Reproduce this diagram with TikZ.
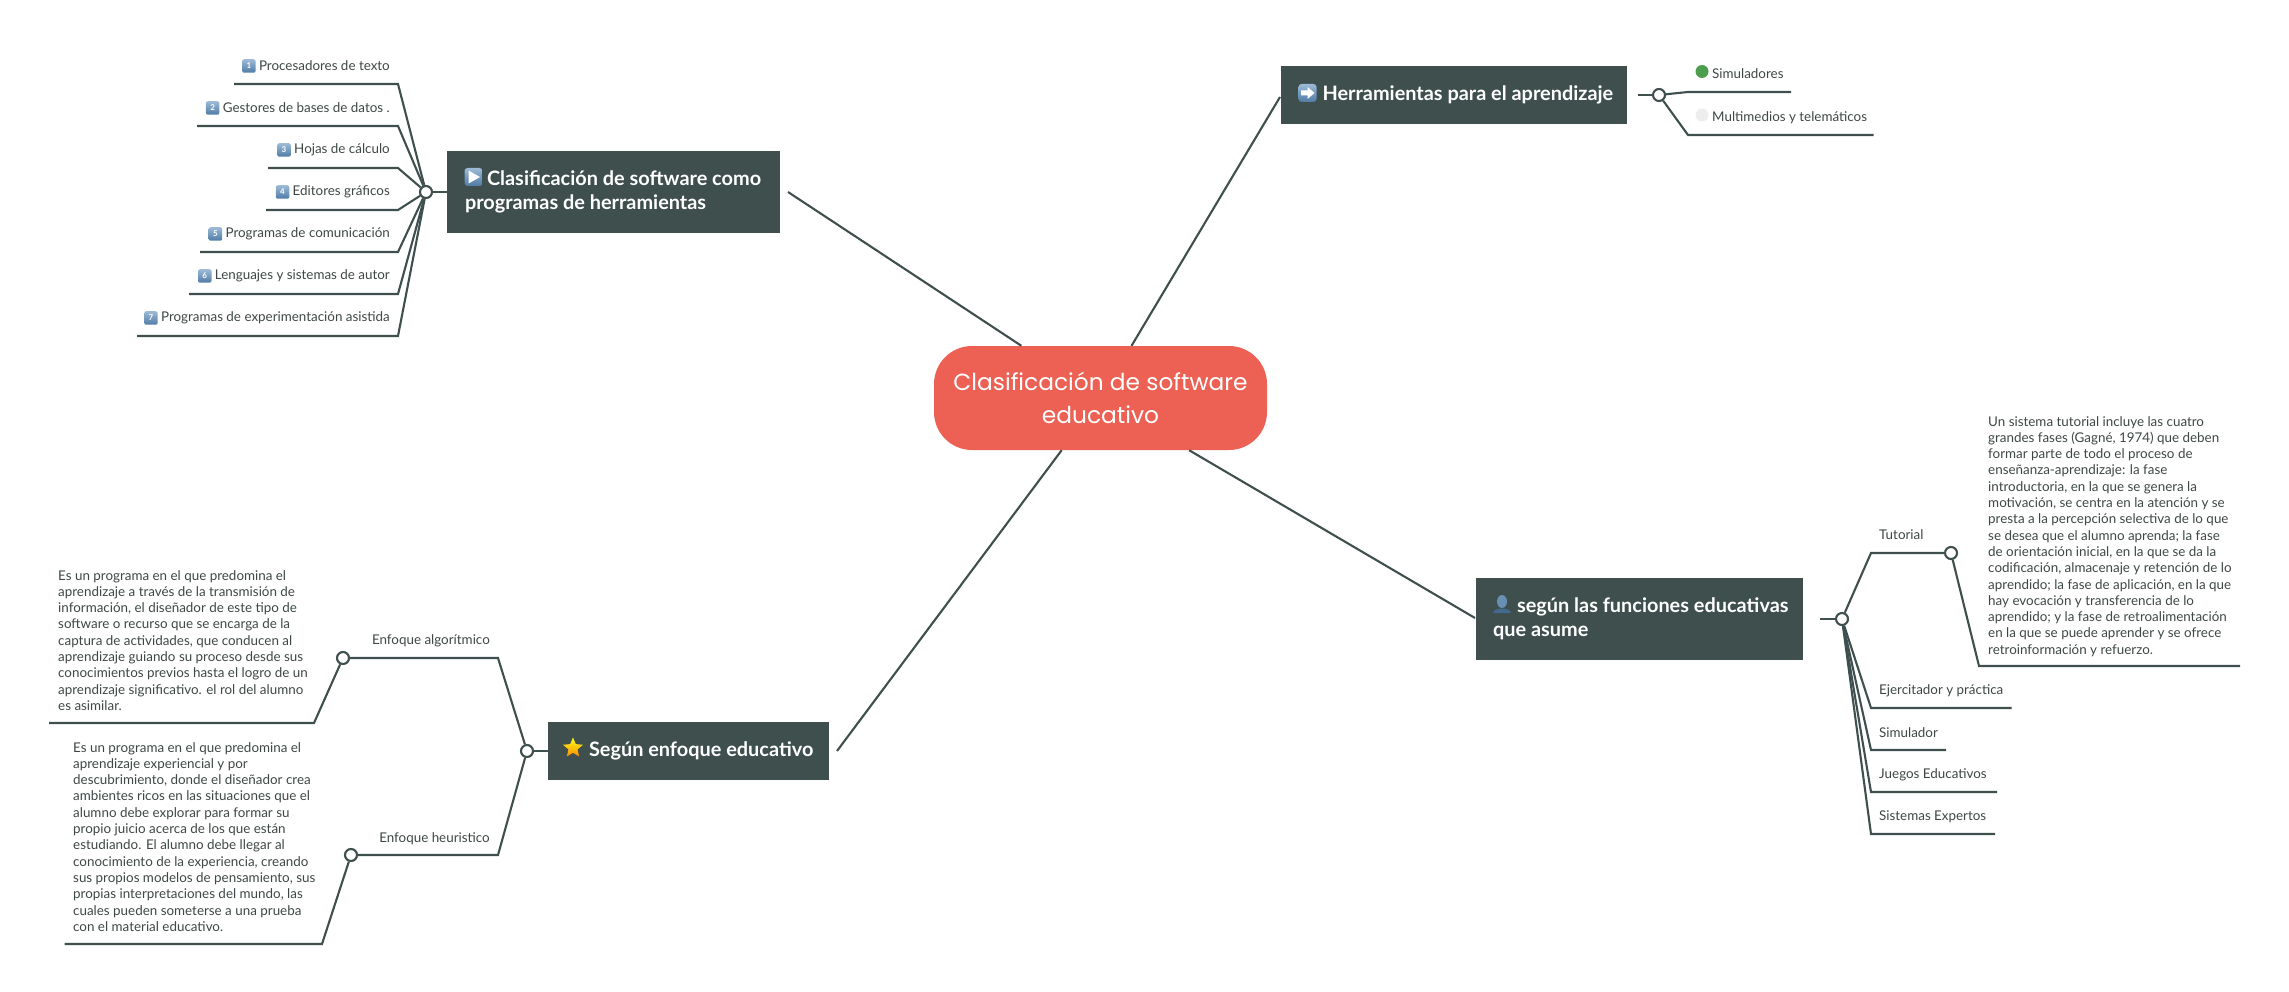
\documentclass[tikz,border=0pt]{standalone}
\usepackage{fontspec}
\setmainfont{Lato}
\newfontfamily\rootfont{Poppins}
\usetikzlibrary{positioning,shapes.geometric}
\definecolor{slate}{HTML}{3E4F4D}
\definecolor{coral}{HTML}{EC6153}
\definecolor{inktext}{HTML}{3D4745}
\definecolor{keytop}{HTML}{9DBBD6}
\definecolor{keybot}{HTML}{4F7BA6}
\tikzset{
  conn/.style={draw=slate, line width=2.1pt, line join=miter},
  root/.style={fill=coral, text=white, rounded corners=38pt, minimum width=333pt, minimum height=104pt, align=center, inner sep=0pt, font=\rootfont\fontsize{23.3}{32.5}\selectfont},
  topic/.style={fill=slate, text=white, anchor=center, align=flush left, inner sep=0pt, font=\bfseries\fontsize{19.9}{24}\selectfont},
  hub/.style={circle, draw=slate, fill=white, line width=2.1pt, minimum size=12pt, inner sep=0pt},
  leaf/.style={text=inktext, inner sep=0pt, font=\fontsize{13.4}{16.3}\selectfont},
  note/.style={leaf, align=left, anchor=north west},
  keycap/.style={rounded corners=2pt, top color=keytop, bottom color=keybot, text=white, minimum size=13.5pt, inner sep=0pt, font=\bfseries\fontsize{8}{8}\selectfont},
  bigcap/.style={rounded corners=3pt, top color=keytop, bottom color=keybot, minimum size=18pt, inner sep=0pt}
}
\begin{document}
\begin{tikzpicture}[x=1pt, y=-1pt]
\useasboundingbox (0,0) rectangle (2289,992);

% Draw the centre and the four topics
\node[root] (center) at (1100.5,398) {Clasificación de software\\educativo};
\node[topic, minimum width=333pt, minimum height=82pt, text width=297pt] (tools) at (613.5,192) {\mbox{\hspace*{22pt}Clasificación de software como}\\programas de herramientas};
\node[topic, minimum width=346pt, minimum height=58pt, text width=308pt] (learn) at (1453.5,95) {\mbox{\hspace*{23pt}Herramientas para el aprendizaje}};
\node[topic, minimum width=327pt, minimum height=82pt, text width=293pt] (roles) at (1639.5,619) {\mbox{\hspace*{24pt}según las funciones educativas}\\que asume};
\node[topic, minimum width=281pt, minimum height=58pt, text width=249pt] (focus) at (688.5,751) {\mbox{\hspace*{25pt}Según enfoque educativo}};

% Free ends of the main links
\coordinate (toolsend) at (788,192);
\coordinate (learnend) at (1280,97);
\coordinate (rolesend) at (1475,618);
\coordinate (focusend) at (837,751);
\draw[conn] (center) -- (toolsend);
\draw[conn] (center) -- (learnend);
\draw[conn] (center) -- (rolesend);
\draw[conn] (center) -- (focusend);

% Icons in the topics
\node[bigcap] (playicon) at (473.5,177) {};
\fill[white] (468.5,170.5) -- (480,177) -- (468.5,183.5) -- cycle;
\node[bigcap] (arrowicon) at (1307.5,93) {};
\fill[white] (1301,90.5) -- (1307.5,90.5) -- (1307.5,87) -- (1314.5,93) -- (1307.5,99) -- (1307.5,95.5) -- (1301,95.5) -- cycle;
\fill[keybot!85!white] (1502,601.5) ellipse (5pt and 6.5pt);
\fill[keybot!85!black] (1493,613) .. controls (1494,607) and (1510,607) .. (1511,613) -- cycle;
\node[star, star points=5, star point ratio=2.2, minimum size=21pt, inner sep=0pt, top color=yellow!90!white, bottom color=orange!90!yellow] (staricon) at (573,748) {};

% Left upper branch
\node[hub] (toolshub) at (426,192) {};
\draw[conn] (toolshub) -- (tools);
\coordinate (a1) at (398,84); \coordinate (a1end) at (234,84);
\coordinate (a2) at (398,126); \coordinate (a2end) at (197,126);
\coordinate (a3) at (398,168); \coordinate (a3end) at (268,168);
\coordinate (a4) at (398,210); \coordinate (a4end) at (266,210);
\coordinate (a5) at (398,252); \coordinate (a5end) at (200,252);
\coordinate (a6) at (398,294); \coordinate (a6end) at (189,294);
\coordinate (a7) at (398,336); \coordinate (a7end) at (137,336);
\draw[conn] (toolshub) -- (a1) -- (a1end);
\draw[conn] (toolshub) -- (a2) -- (a2end);
\draw[conn] (toolshub) -- (a3) -- (a3end);
\draw[conn] (toolshub) -- (a4) -- (a4end);
\draw[conn] (toolshub) -- (a5) -- (a5end);
\draw[conn] (toolshub) -- (a6) -- (a6end);
\draw[conn] (toolshub) -- (a7) -- (a7end);
\node[leaf, anchor=east] (proc) at (390,66) {Procesadores de texto};
\node[keycap, left=3pt of proc] (key1) {1};
\node[leaf, anchor=east] (gest) at (390,108) {Gestores de bases de datos .};
\node[keycap, left=3pt of gest] (key2) {2};
\node[leaf, anchor=east] (hoja) at (390,150) {Hojas de cálculo};
\node[keycap, left=3pt of hoja] (key3) {3};
\node[leaf, anchor=east] (edit) at (390,192) {Editores gráficos};
\node[keycap, left=3pt of edit] (key4) {4};
\node[leaf, anchor=east] (comu) at (390,234) {Programas de comunicación};
\node[keycap, left=3pt of comu] (key5) {5};
\node[leaf, anchor=east] (leng) at (390,276) {Lenguajes y sistemas de autor};
\node[keycap, left=3pt of leng] (key6) {6};
\node[leaf, anchor=east] (expe) at (390,318) {Programas de experimentación asistida};
\node[keycap, left=3pt of expe] (key7) {7};

% Right upper branch
\coordinate (learnstem) at (1637.5,95);
\node[hub] (learnhub) at (1659,95) {};
\draw[conn] (learnstem) -- (learnhub);
\coordinate (b1) at (1688,92); \coordinate (b1end) at (1791,92);
\coordinate (b2) at (1688,135); \coordinate (b2end) at (1873.5,135);
\draw[conn] (learnhub) -- (b1) -- (b1end);
\draw[conn] (learnhub) -- (b2) -- (b2end);
\node[circle, fill=green!45!black!70!white, minimum size=13pt, inner sep=0pt] (dot1) at (1702,71.5) {};
\node[leaf, anchor=west] (simu) at (1712,74) {Simuladores};
\node[circle, fill=black!7, minimum size=13pt, inner sep=0pt] (dot2) at (1702,115) {};
\node[leaf, anchor=west] (mult) at (1712,118) {Multimedios y telemáticos};

% Right lower branch
\coordinate (rolesstem) at (1820,619);
\node[hub] (roleshub) at (1842,619) {};
\draw[conn] (rolesstem) -- (roleshub);
\node[hub] (tutohub) at (1951,553) {};
\coordinate (c1) at (1871,553);
\coordinate (c2) at (1871,708); \coordinate (c2end) at (2011.5,708);
\coordinate (c3) at (1871,750); \coordinate (c3end) at (1946,750);
\coordinate (c4) at (1871,792); \coordinate (c4end) at (1997,792);
\coordinate (c5) at (1871,834); \coordinate (c5end) at (1995,834);
\coordinate (c6) at (1979,666); \coordinate (c6end) at (2240,666);
\draw[conn] (roleshub) -- (c1) -- (tutohub);
\draw[conn] (roleshub) -- (c2) -- (c2end);
\draw[conn] (roleshub) -- (c3) -- (c3end);
\draw[conn] (roleshub) -- (c4) -- (c4end);
\draw[conn] (roleshub) -- (c5) -- (c5end);
\draw[conn] (tutohub) -- (c6) -- (c6end);
\node[leaf, anchor=west] (tuto) at (1879,535) {Tutorial};
\node[leaf, anchor=west] (ejer) at (1879,691) {Ejercitador y práctica};
\node[leaf, anchor=west] (simd) at (1879,733) {Simulador};
\node[leaf, anchor=west] (jueg) at (1879,775) {Juegos Educativos};
\node[leaf, anchor=west] (sist) at (1879,817) {Sistemas Expertos};
\node[note] (tutonote) at (1988,416) {Un sistema tutorial incluye las cuatro\\grandes fases (Gagné, 1974) que deben\\formar parte de todo el proceso de\\enseñanza-aprendizaje: la fase\\introductoria, en la que se genera la\\motivación, se centra en la atención y se\\presta a la percepción selectiva de lo que\\se desea que el alumno aprenda; la fase\\de orientación inicial, en la que se da la\\codificación, almacenaje y retención de lo\\aprendido; la fase de aplicación, en la que\\hay evocación y transferencia de lo\\aprendido; y la fase de retroalimentación\\en la que se puede aprender y se ofrece\\retroinformación y refuerzo.};

% Left lower branch
\node[hub] (focushub) at (527,751) {};
\draw[conn] (focushub) -- (focus);
\node[hub] (algohub) at (343,658) {};
\node[hub] (heurhub) at (351,855) {};
\coordinate (d1) at (498,658);
\coordinate (d2) at (498,855);
\coordinate (d3) at (314,723); \coordinate (d3end) at (49,723);
\coordinate (d4) at (322,944); \coordinate (d4end) at (64.5,944);
\draw[conn] (focushub) -- (d1) -- (algohub);
\draw[conn] (focushub) -- (d2) -- (heurhub);
\draw[conn] (algohub) -- (d3) -- (d3end);
\draw[conn] (heurhub) -- (d4) -- (d4end);
\node[leaf, anchor=east] (algo) at (490,641) {Enfoque algorítmico};
\node[leaf, anchor=east] (heur) at (490,839) {Enfoque heuristico};
\node[note] (algonote) at (58,570) {Es un programa en el que predomina el\\aprendizaje a través de la transmisión de\\información, el diseñador de este tipo de\\software o recurso que se encarga de la\\captura de actividades, que conducen al\\aprendizaje guiando su proceso desde sus\\conocimientos previos hasta el logro de un\\aprendizaje significativo. el rol del alumno\\es asimilar.};
\node[note] (heurnote) at (73,742) {Es un programa en el que predomina el\\aprendizaje experiencial y por\\descubrimiento, donde el diseñador crea\\ambientes ricos en las situaciones que el\\alumno debe explorar para formar su\\propio juicio acerca de los que están\\estudiando. El alumno debe llegar al\\conocimiento de la experiencia, creando\\sus propios modelos de pensamiento, sus\\propias interpretaciones del mundo, las\\cuales pueden someterse a una prueba\\con el material educativo.};
\end{tikzpicture}
\end{document}
